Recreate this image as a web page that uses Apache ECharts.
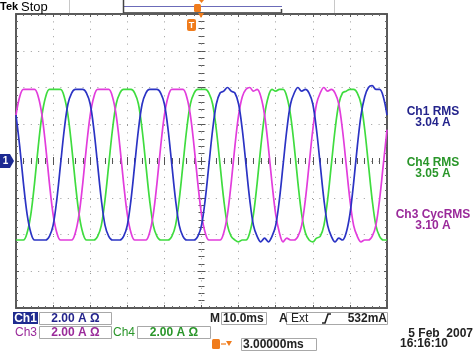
<!DOCTYPE html>
<html>
<head>
<meta charset="utf-8">
<script src="https://cdn.jsdelivr.net/npm/echarts@6.0.0/dist/echarts.min.js"></script>
<style>
html, body { margin: 0; padding: 0; background: #fff; }
#scope { width: 474px; height: 353px; }
</style>
</head>
<body>
<div id="scope"></div>
<script>
// time base: one sample per ms, screen spans -50 .. +50 ms (10 ms/div)
var startMs = -50;
var stepMs = 1;

// currents in A (2 A/div)
var ch1 = [2.5, 0.8, -1.2, -2.9, -3.9, -4.3, -4.3, -4.3, -4.3, -4.1,
  -3.5, -2.1, -0.2, 1.7, 3.1, 3.7, 3.9, 3.9, 3.9, 3.7,
  3.1, 1.7, -0.2, -2.1, -3.5, -4.1, -4.3, -4.3, -4.3, -4.1,
  -3.5, -2.1, -0.2, 1.7, 3.1, 3.7, 3.9, 3.9, 3.9, 3.7,
  3.1, 1.7, -0.2, -2.1, -3.5, -4.1, -4.3, -4.3, -4.3, -4.1,
  -3.5, -2.1, -0.2, 1.7, 3.1, 3.7, 3.8, 4.0, 3.8, 3.7,
  3.1, 1.7, -0.2, -2.1, -3.5, -4.1, -4.4, -4.2, -4.4, -4.1,
  -3.5, -2.1, -0.2, 1.7, 3.1, 3.7, 4.0, 3.8, 3.9, 3.7,
  3.1, 1.7, -0.2, -2.1, -3.5, -4.1, -4.4, -4.2, -4.3, -3.9,
  -2.9, -1.2, 0.8, 2.5, 3.5, 4.0, 4.1, 3.9, 3.9, 3.5,
  2.5];
var ch3 = [2.5, 3.5, 3.9, 3.9, 3.9, 3.9, 3.5, 2.5, 0.8, -1.2,
  -2.9, -3.9, -4.3, -4.3, -4.3, -4.3, -3.9, -2.9, -1.2, 0.8,
  2.5, 3.5, 3.9, 3.9, 3.9, 3.9, 3.5, 2.5, 0.8, -1.2,
  -2.9, -3.9, -4.3, -4.3, -4.3, -4.3, -3.9, -2.9, -1.2, 0.8,
  2.5, 3.5, 3.9, 3.9, 3.9, 3.9, 3.5, 2.5, 0.8, -1.2,
  -2.9, -3.9, -4.3, -4.3, -4.3, -4.3, -3.9, -2.9, -1.2, 0.8,
  2.5, 3.5, 3.9, 4.0, 3.8, 3.9, 3.5, 2.5, 0.8, -1.2,
  -2.9, -3.9, -4.4, -4.2, -4.3, -4.3, -4.1, -3.5, -2.1, -0.2,
  1.7, 3.1, 3.7, 4.0, 3.8, 3.9, 3.7, 3.1, 1.7, -0.2,
  -2.1, -3.5, -4.1, -4.4, -4.3, -4.3, -4.1, -3.5, -2.1, -0.2,
  1.7];
var ch4 = [-4.3, -4.3, -4.3, -3.9, -2.9, -1.2, 0.8, 2.5, 3.5, 3.9,
  3.9, 3.9, 3.9, 3.5, 2.5, 0.8, -1.2, -2.9, -3.9, -4.3,
  -4.3, -4.3, -4.1, -3.5, -2.1, -0.2, 1.7, 3.1, 3.7, 3.9,
  3.9, 3.9, 3.7, 3.1, 1.7, -0.2, -2.1, -3.5, -4.1, -4.3,
  -4.3, -4.3, -4.1, -3.5, -2.1, -0.2, 1.7, 3.1, 3.7, 3.9,
  3.9, 3.9, 3.7, 3.1, 1.7, -0.2, -2.1, -3.5, -4.1, -4.3,
  -4.4, -4.3, -4.3, -3.9, -2.9, -1.2, 0.8, 2.5, 3.5, 3.9,
  3.8, 3.9, 3.9, 3.5, 2.5, 0.8, -1.2, -2.9, -3.9, -4.3,
  -4.4, -4.2, -4.1, -3.5, -2.1, -0.2, 1.7, 3.1, 3.7, 3.8,
  3.9, 3.9, 3.7, 3.1, 1.7, -0.2, -2.1, -3.5, -4.1, -4.3,
  -4.3];

// readouts
var measNames = ['Ch1 RMS', 'Ch4 RMS', 'Ch3 CycRMS'];
var measValues = ['3.04 A', '3.05 A', '3.10 A'];
var chScale = ['2.00 A \u03a9', '2.00 A \u03a9', '2.00 A \u03a9'];
var timeDiv = '10.0ms';
var trigLevel = '532mA';
var trigPos = '3.00000ms';
var dateText = '5 Feb  2007';
var clockText = '16:16:10';

function pairs(vals) {
  return vals.map(function (v, i) { return [startMs + i * stepMs, v]; });
}

var FONT = '"Liberation Sans", Arial, sans-serif';
var ORANGE = '#f07c1c';
var C1 = '#2b33c4', C3 = '#e23ddc', C4 = '#3fdc3f';
var T1 = '#24248c', T3 = '#9a2a9a', T4 = '#2a962a';

function txt(s, x, y, color, size, weight, align) {
  return {
    type: 'text', x: x, y: y, z: 10,
    style: {
      text: s, fill: color, align: align || 'left', verticalAlign: 'middle',
      font: (weight || 'normal') + ' ' + (size || 12) + 'px ' + FONT
    }
  };
}
function box(x, y, w, h, stroke, fill) {
  return { type: 'rect', z: 9, shape: { x: x, y: y, width: w, height: h },
    style: { fill: fill || 'none', stroke: stroke || '#a8a8a8', lineWidth: 1 } };
}
function seg(x1, y1, x2, y2, color, w) {
  return { type: 'line', z: 9, shape: { x1: x1, y1: y1, x2: x2, y2: y2 },
    style: { stroke: color, lineWidth: w || 1 } };
}

var chart = echarts.init(document.getElementById('scope'), null, { renderer: 'canvas' });

var gridMinor = { show: true, splitNumber: 5, length: 2, lineStyle: { color: '#6a6a6a', width: 1 } };
var frameLine = { show: true, onZero: false, lineStyle: { color: '#5a5a5a', width: 2 } };
var dots = { show: true, lineStyle: { color: '#9a9a9a', width: 1, type: [1, 6.4] } };

function xAx(pos, center, split) {
  return {
    type: 'value', min: -50, max: 50, interval: 10, position: pos,
    axisLine: center ? { show: false, onZero: true, onZeroAxisIndex: 0 } : frameLine,
    axisTick: { show: true, inside: true, length: center ? 4 : 3, lineStyle: { color: '#555' } },
    minorTick: center ? { show: true, splitNumber: 5, length: 3, lineStyle: { color: '#555' } } : gridMinor,
    axisLabel: { show: false },
    splitLine: split ? dots : { show: false },
    minorSplitLine: { show: false }
  };
}
function yAx(pos, center, split) {
  return {
    type: 'value', min: -8, max: 8, interval: 2, position: pos,
    axisLine: center ? { show: false, onZero: true, onZeroAxisIndex: 0 } : frameLine,
    axisTick: { show: true, inside: true, length: center ? 4 : 3, lineStyle: { color: '#555' } },
    minorTick: center ? { show: true, splitNumber: 5, length: 3, lineStyle: { color: '#555' } } : gridMinor,
    axisLabel: { show: false },
    splitLine: split ? dots : { show: false },
    minorSplitLine: { show: false }
  };
}

function trace(name, vals, color) {
  return {
    name: name, type: 'line', data: pairs(vals), xAxisIndex: 0, yAxisIndex: 0,
    showSymbol: false, smooth: 0.35, animation: false,
    lineStyle: { color: color, width: 1.7 }, itemStyle: { color: color }
  };
}

var g = [];
// top status bar
g.push(txt('Tek', 0, 7, '#000', 11, 'bold'));
g.push(txt('Stop', 21, 7, '#000', 13, 'normal'));
g.push(seg(69.5, 0, 69.5, 13, '#c8c8c8'));
g.push(seg(334.5, 0, 334.5, 13, '#c8c8c8'));
g.push(seg(123, 6.5, 282, 6.5, '#6b6bb8'));
g.push(seg(123, 12.5, 282, 12.5, '#666'));
g.push(seg(123.5, 0, 123.5, 13, '#444', 1.5));
g.push(seg(281.5, 9, 281.5, 13, '#444', 1.5));
g.push({ type: 'rect', z: 10, shape: { x: 194, y: 4, width: 7, height: 8, r: 1.5 }, style: { fill: ORANGE } });
g.push({ type: 'polygon', z: 10, shape: { points: [[199, 0], [204, 0], [201.5, 3]] }, style: { fill: ORANGE } });
// trigger markers under the frame
g.push({ type: 'polygon', z: 10, shape: { points: [[198, 13], [204, 13], [201, 18]] }, style: { fill: ORANGE } });
g.push({ type: 'rect', z: 10, shape: { x: 187, y: 19, width: 9, height: 12, r: 2 }, style: { fill: ORANGE } });
g.push(txt('T', 191.5, 25.5, '#fff', 9, 'bold', 'center'));
// channel 1 ground marker
g.push({ type: 'polygon', z: 10, shape: { points: [[0, 154], [10, 154], [14, 161], [10, 168], [0, 168]] }, style: { fill: '#1c2a92' } });
g.push(txt('1', 5.5, 161.5, '#fff', 10, 'bold', 'center'));

// measurement panel
var measColors = [T1, T4, T3];
var measY = [112, 163, 215];
for (var i = 0; i < measNames.length; i++) {
  g.push(txt(measNames[i], 433, measY[i], measColors[i], 12, 'bold', 'center'));
  g.push(txt(measValues[i], 433, measY[i] + 11, measColors[i], 12, 'bold', 'center'));
}

// bottom readouts, row 1
g.push(box(13, 312, 25, 12, 'none', '#1f2b8f'));
g.push(txt('Ch1', 25.5, 318.5, '#fff', 12, 'bold', 'center'));
g.push(box(39.5, 312.5, 72, 12));
g.push(txt(chScale[0], 75.5, 318.5, T1, 12, 'bold', 'center'));
g.push(txt('M', 210, 318.5, '#222', 12, 'bold'));
g.push(box(221.5, 312.5, 45, 12));
g.push(txt(timeDiv, 223, 318.5, '#222', 12, 'bold'));
g.push(txt('A', 279, 318.5, '#222', 12, 'bold'));
g.push(box(286.5, 312.5, 101, 12));
g.push(txt('Ext', 291, 318.5, '#222', 12, 'normal'));
g.push({ type: 'polyline', z: 10, shape: { points: [[322, 323], [325, 323], [328, 314], [331, 314]] }, style: { stroke: '#222', lineWidth: 1.6, fill: 'none' } });
g.push(txt(trigLevel, 387, 318.5, '#222', 12, 'bold', 'right'));
// row 2
g.push(txt('Ch3', 15, 332.5, T3, 12, 'normal'));
g.push(box(39.5, 326.5, 72, 12));
g.push(txt(chScale[1], 75.5, 332.5, T3, 12, 'bold', 'center'));
g.push(txt('Ch4', 113, 332.5, T4, 12, 'normal'));
g.push(box(137.5, 326.5, 73, 12));
g.push(txt(chScale[2], 174, 332.5, T4, 12, 'bold', 'center'));
g.push(txt(dateText, 473, 334, '#222', 12, 'bold', 'right'));
// row 3
g.push({ type: 'rect', z: 10, shape: { x: 212, y: 339, width: 8, height: 10, r: 1.5 }, style: { fill: ORANGE } });
g.push(seg(221, 344, 226, 344, ORANGE, 1.2));
g.push({ type: 'polygon', z: 10, shape: { points: [[226, 341], [232, 341], [229, 346]] }, style: { fill: ORANGE } });
g.push(box(241.5, 338.5, 75, 12));
g.push(txt(trigPos, 243, 344.5, '#222', 12, 'bold'));
g.push(txt(clockText, 400, 344, '#222', 12, 'bold'));

chart.setOption({
  animation: false,
  backgroundColor: '#fff',
  grid: { left: 16, top: 14, width: 371, height: 294, show: false },
  xAxis: [xAx('bottom', true, true), xAx('top', true, false), xAx('top', false, false), xAx('bottom', false, false)],
  yAxis: [yAx('left', true, true), yAx('right', true, false), yAx('left', false, false), yAx('right', false, false)],
  series: [trace('Ch4', ch4, C4), trace('Ch3', ch3, C3), trace('Ch1', ch1, C1)],
  graphic: { elements: g }
});
</script>
</body>
</html>
